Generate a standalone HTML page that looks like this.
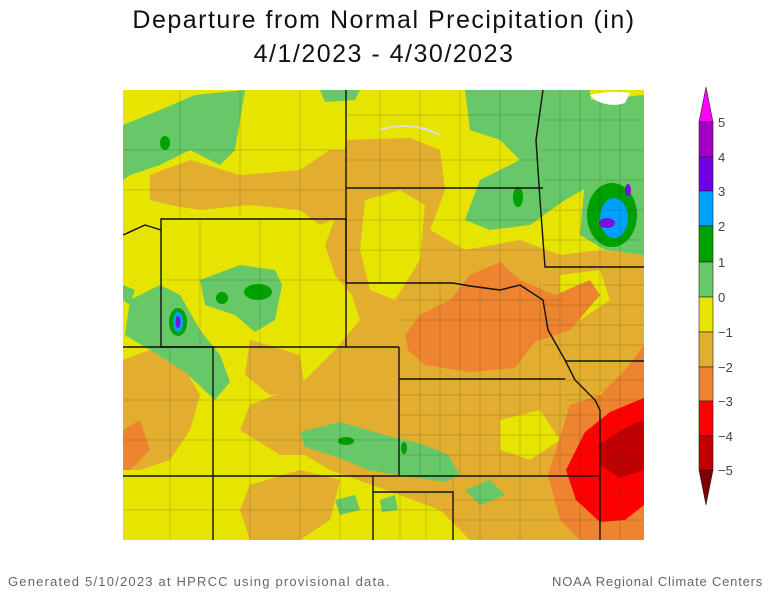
<!DOCTYPE html>
<html><head><style>
body{margin:0;background:#fff;width:768px;height:593px;overflow:hidden;font-family:"Liberation Sans",sans-serif}
.t{position:absolute;left:0;width:768px;text-align:center;font-size:25px;color:#111;letter-spacing:1.5px}
.f{position:absolute;top:574px;font-size:13px;color:#666;letter-spacing:0.8px}
</style></head><body>
<div class="t" style="top:6px">Departure from Normal Precipitation (in)</div>
<div class="t" style="top:40px">4/1/2023 - 4/30/2023</div>
<svg style="position:absolute;left:0;top:0" width="768" height="593">
<defs><clipPath id="c"><rect x="123" y="90" width="521" height="450"/></clipPath></defs>
<g clip-path="url(#c)">
<rect x="123" y="90" width="521" height="450" fill="#e6e400"/>
<g fill="#e3ad30">
<path d="M346,140 L410,138 L440,150 L445,190 L430,230 L465,250 L520,240 L560,255 L600,250 L644,255 L644,400 L600,392 L590,450 L570,500 L600,540 L470,540 L440,510 L400,495 L330,470 L305,455 L280,455 L240,430 L250,405 L300,385 L335,350 L360,320 L352,295 L335,275 L325,245 L340,205 Z"/>
<path d="M150,175 L190,160 L240,175 L300,170 L330,150 L346,150 L346,215 L320,225 L300,210 L250,205 L200,210 L170,205 L150,200 Z"/>
<path d="M123,360 L150,350 L185,370 L200,395 L190,430 L170,460 L140,470 L123,470 Z"/>
<path d="M250,485 L300,470 L340,480 L330,520 L300,540 L250,540 L240,510 Z"/>
<path d="M250,340 L300,355 L305,390 L270,395 L245,375 Z"/>
</g>
<g fill="#e6e400">
<path d="M365,200 L400,190 L425,205 L420,260 L395,300 L370,290 L360,250 Z"/>
<path d="M445,210 L470,205 L480,235 L455,245 Z"/>
<path d="M560,275 L600,270 L610,300 L580,320 L560,300 Z"/>
<path d="M500,420 L540,410 L560,440 L530,460 L500,450 Z"/>
</g>
<g fill="#ee8430">
<path d="M405,335 L420,315 L450,300 L470,275 L500,262 L520,280 L555,295 L590,280 L600,295 L570,330 L535,342 L515,368 L470,372 L425,365 L408,350 Z"/>
<path d="M570,405 L600,395 L625,370 L644,345 L644,540 L580,540 L560,520 L548,475 Z"/>
<path d="M123,430 L140,420 L150,450 L130,470 L123,470 Z"/>
</g>
<path fill="#ff0000" d="M566,470 L585,432 L610,412 L644,398 L644,505 L625,520 L600,522 L576,500 Z"/>
<path fill="#c00000" d="M598,445 L630,425 L644,420 L644,470 L620,478 L600,465 Z"/>
<g fill="#66c866">
<path d="M123,125 L160,110 L195,95 L245,90 L235,150 L220,165 L190,150 L160,165 L130,175 L123,180 Z"/>
<path d="M320,90 L360,90 L355,100 L325,102 Z"/>
<path d="M465,90 L590,90 L600,180 L565,200 L530,225 L490,230 L465,220 L480,180 L520,160 L500,140 L470,130 Z"/>
<path d="M590,100 L644,95 L644,255 L605,250 L580,235 L585,180 Z"/>
<path d="M200,280 L240,265 L275,270 L282,285 L275,320 L255,332 L235,315 L205,305 Z"/>
<path d="M130,300 L160,285 L180,295 L200,330 L220,355 L230,382 L215,400 L185,372 L150,350 L125,335 Z"/>
<path d="M300,432 L340,422 L385,435 L425,445 L448,455 L460,475 L445,482 L405,476 L368,470 L340,458 L305,447 Z"/>
<path d="M335,500 L355,495 L360,510 L340,515 Z"/>
<path d="M465,490 L490,480 L505,495 L480,505 Z"/>
<path d="M380,500 L395,495 L398,510 L382,512 Z"/>
<path d="M123,285 L135,290 L130,305 L123,300 Z"/>
</g>
<g fill="#00a000">
<ellipse cx="165" cy="143" rx="5" ry="7"/>
<ellipse cx="258" cy="292" rx="14" ry="8"/>
<ellipse cx="222" cy="298" rx="6" ry="6"/>
<ellipse cx="518" cy="197" rx="5" ry="10"/>
<ellipse cx="612" cy="215" rx="25" ry="32"/>
<ellipse cx="346" cy="441" rx="8" ry="4"/>
<ellipse cx="404" cy="448" rx="3" ry="6"/>
<ellipse cx="178" cy="322" rx="9" ry="14"/>
</g>
<ellipse fill="#00a0ff" cx="614" cy="218" rx="14" ry="20"/>
<ellipse fill="#00a0ff" cx="178" cy="322" rx="5" ry="10"/>
<ellipse fill="#7a10e0" cx="607" cy="223" rx="8" ry="5"/>
<ellipse fill="#7a10e0" cx="628" cy="190" rx="3" ry="6"/>
<ellipse fill="#7a10e0" cx="178" cy="322" rx="2.5" ry="6"/>
<g fill="none" stroke="#2a3a10" stroke-width="0.5" opacity="0.4">
<path d="M123,150 H346 M123,190 H346 M180,90 V219 M240,90 V219 M300,90 V219 M200,219 V347 M260,219 V347 M300,219 V347 M161,280 H346 M250,347 V540 M300,347 V540 M340,347 V540 M213,400 H399 M213,440 H399 M123,400 H213 M123,440 H213 M170,347 V540 M123,510 H373"/>
<path d="M346,115 H543 M346,160 H543 M380,90 V283 M420,90 V283 M460,90 V283 M500,90 V283 M346,220 H543 M346,250 H543 M399,300 H565 M399,320 H565 M420,283 V379 M440,283 V379 M460,283 V379 M480,283 V379 M500,283 V379 M520,283 V379 M540,283 V379 M399,395 H600 M399,415 H600 M399,435 H600 M399,455 H600 M420,379 V476 M440,379 V476 M460,379 V476 M480,379 V476 M500,379 V476 M520,379 V476 M540,379 V476 M560,379 V476 M580,379 V476"/>
<path d="M543,120 H644 M543,150 H644 M543,180 H644 M543,210 H644 M543,240 H644 M560,90 V267 M580,90 V267 M600,90 V267 M620,90 V267 M543,285 H644 M543,305 H644 M543,325 H644 M543,345 H644 M560,267 V361 M580,267 V361 M600,267 V361 M620,267 V361 M565,380 H644 M565,400 H644 M580,361 V540 M600,361 V540 M620,361 V540 M600,430 H644 M600,460 H644 M600,490 H644 M600,520 H644 M373,510 H453 M400,492 V540 M426,492 V540 M453,476 V540 M480,476 V540 M520,476 V540 M453,500 H600 M453,520 H600"/>
</g>
<g fill="none" stroke="#111" stroke-width="1.4">
<path d="M161,219 H346 V347 H161 Z"/>
<path d="M346,90 V283 M346,188 H543 M346,283 H453 L470,286 L500,290 L520,285 L543,300 L548,330 L565,360 L575,380 L595,400 L600,410 M399,347 V476 M346,347 H399 M399,379 H565 M213,347 V540 M123,476 H600 M373,492 H453 V540 M373,476 V540 M213,347 H161 M543,90 L536,140 L540,200 L545,267 L644,267 M565,361 H644 M600,410 V540 M123,347 H161 M123,235 L145,225 L161,230"/>
</g>
<path d="M590,95 q20,-5 40,-2 l-5,10 q-15,5 -30,-3 Z" fill="#fff"/>
<path d="M380,130 q30,-10 60,5" stroke="#ddd" stroke-width="2" fill="none"/>
</g>
<g stroke="#222" stroke-width="0.6">
<path d="M706,87 L713,122 H699 Z" fill="#ff00ff"/>
<rect x="699" y="122" width="14" height="35" fill="#a000c0"/>
<rect x="699" y="157" width="14" height="34" fill="#7000e0"/>
<rect x="699" y="191" width="14" height="35" fill="#00a0ff"/>
<rect x="699" y="226" width="14" height="36" fill="#00a000"/>
<rect x="699" y="262" width="14" height="35" fill="#66c866"/>
<rect x="699" y="297" width="14" height="35" fill="#e6e400"/>
<rect x="699" y="332" width="14" height="35" fill="#e3ad30"/>
<rect x="699" y="367" width="14" height="34" fill="#ee8430"/>
<rect x="699" y="401" width="14" height="35" fill="#ff0000"/>
<rect x="699" y="436" width="14" height="34" fill="#c00000"/>
<path d="M699,470 H713 L706,505 Z" fill="#800000"/>
</g>
<g font-size="13" fill="#444" font-family="Liberation Sans,sans-serif">
<text x="718" y="127">5</text><text x="718" y="162">4</text><text x="718" y="196">3</text>
<text x="718" y="231">2</text><text x="718" y="267">1</text><text x="718" y="302">0</text>
<text x="718" y="337">−1</text><text x="718" y="372">−2</text><text x="718" y="406">−3</text>
<text x="718" y="441">−4</text><text x="718" y="475">−5</text>
</g>
</svg>
<div class="f" style="left:8px;letter-spacing:1.2px">Generated 5/10/2023 at HPRCC using provisional data.</div>
<div class="f" style="left:552px">NOAA Regional Climate Centers</div>
</body></html>
